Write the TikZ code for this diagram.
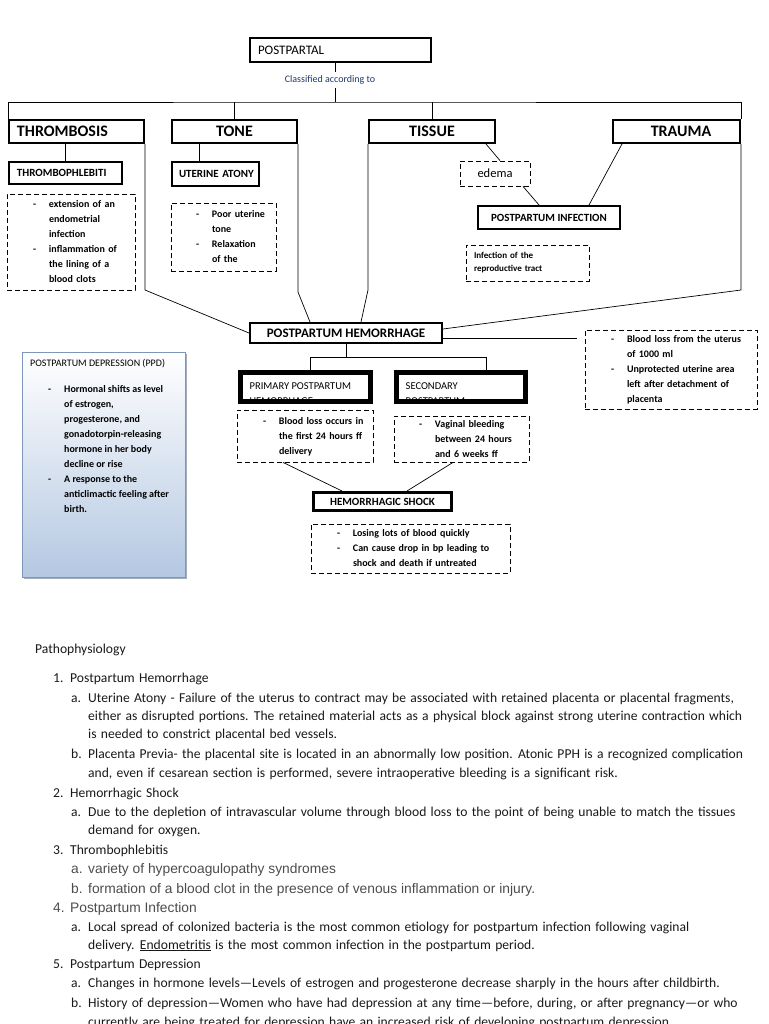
\documentclass[tikz,border=0pt]{standalone}
\usepackage{fontspec}
\setmainfont{Carlito}
\newfontfamily\bodyfont{Carlito}[WordSpace=1.4]
\newfontfamily\arialfont{Liberation Sans}
\usepackage{tikz}
\usetikzlibrary{shadows}
\setlength{\parindent}{0pt}
\definecolor{clsblue}{RGB}{31,56,100}
\definecolor{ppdblue}{RGB}{180,200,226}
\definecolor{ppdline}{RGB}{126,150,186}
\definecolor{bodygray}{RGB}{25,25,25}
\newcommand{\blist}[2]{\begin{tabular}{@{\hspace{#1}}p{16pt}@{}l@{}}#2\end{tabular}}
\newcommand{\enum}[1]{\makebox[17pt][l]{#1}}

\begin{document}
\begin{tikzpicture}[x=1pt,y=-1pt]
\tikzset{hbox/.style = {draw, line width=2pt, inner sep=0pt, font=\bfseries}}
\tikzset{bigbox/.style = {hbox, font=\fontsize{16}{18}\selectfont\bfseries, minimum height=23pt}}
\tikzset{subbox/.style = {hbox, font=\fontsize{11}{13}\selectfont\bfseries}}
\tikzset{lbox/.style = {inner xsep=0pt, text width=#1, align=left}}
\tikzset{dbox/.style = {draw, dash pattern=on 5pt off 3pt, line width=0.8pt, inner sep=0pt, align=left, font=\fontsize{10}{15}\selectfont\bfseries}}
\tikzset{cliptext/.style = {draw=none, line width=0.4pt, inner sep=0pt, minimum width=0pt, minimum height=0pt, anchor=north west, align=left, font=\fontsize{10.5}{15}\selectfont}}
\tikzset{conn/.style = {line width=0.7pt}}
\tikzset{body/.style = {anchor=base west, inner sep=0pt, text=bodygray, font=\bodyfont\fontsize{13.6}{16}\selectfont}}
\tikzset{arial/.style = {body, text=black!70, font=\arialfont\fontsize{13.8}{16}\selectfont}}
\useasboundingbox (0,0) rectangle (768,1024);

\node[hbox, lbox=181pt, font=\fontsize{13}{15}\selectfont, minimum height=24pt] (post) at (340.5,50) {\hspace*{8pt}POSTPARTAL};
\node[text=clsblue, font=\fontsize{10}{12}\selectfont, inner ysep=3pt] (cls) at (330,80) {Classified according to};
\coordinate (bar) at (335,102);

\node[bigbox, lbox=135pt] (thrombosis) at (76.5,131.5) {\hspace*{8pt}THROMBOSIS};
\node[bigbox, minimum width=125pt] (tone) at (234.5,131.5) {TONE};
\node[bigbox, minimum width=126pt] (tissue) at (432,131.5) {TISSUE};
\node[bigbox, minimum width=127pt] (trauma) at (676.5,131.5) {\hspace*{9pt}TRAUMA};
\draw[conn] (bar |- post.south) -- (bar |- cls.north);
\draw[conn] (bar |- cls.south) -- (bar);
\draw[conn] (thrombosis.north west) |- (bar) -| (trauma.north east);
\draw[conn] (tone.north) -- (tone.north |- bar);
\draw[conn] (tissue.north) -- (tissue.north |- bar);

\node[subbox, lbox=113pt, minimum height=22pt] (phlebiti) at (65.5,173) {\hspace*{8pt}THROMBOPHLEBITI};
\node[subbox, lbox=87pt, minimum height=24pt] (atony) at (215.5,174) {\hspace*{7pt}UTERINE ATONY};
\draw[conn] (phlebiti.north) -- (phlebiti.north |- thrombosis.south);
\draw[conn] ([xshift=-16pt]atony.north) -- ([xshift=-16pt]atony.north |- tone.south);
\node[dbox, text width=128pt, minimum height=96pt] (clotlist) at (71,242) {\blist{26pt}{-&extension of an\\&endometrial\\&infection\\-&inflammation of\\&the lining of a\\&blood clots}};
\node[dbox, text width=105pt, minimum height=68pt] (atonylist) at (223.5,237) {\blist{25pt}{-&Poor uterine\\&tone\\-&Relaxation\\&of the}};

\node[dbox, font=\fontsize{12.5}{14}\selectfont, minimum width=70pt, minimum height=25pt] (edema) at (495,173.5) {edema};
\node[subbox, minimum width=142pt, minimum height=23pt] (infection) at (549,217.5) {POSTPARTUM INFECTION};
\node[dbox, font=\fontsize{9}{13}\selectfont\bfseries, text width=123pt, minimum height=36pt] (infectlist) at (527.5,263) {\hspace*{8pt}Infection of the\\\hspace*{8pt}reproductive tract};
\draw[conn] ([xshift=54pt]tissue.south) -- ([xshift=5pt]edema.north);
\draw[conn] ([xshift=28pt]edema.south) -- ([xshift=-10pt]infection.north);
\draw[conn] ([xshift=-54.5pt]trauma.south) -- ([xshift=40pt]infection.north);

\node[hbox, font=\fontsize{13}{15}\selectfont\bfseries, minimum width=192pt, minimum height=20pt] (pph) at (346,333) {POSTPARTUM HEMORRHAGE};
\draw[conn] (thrombosis.south east) -- ++(0,146) -- (pph.west);
\draw[conn] (tone.south east) -- ++(0,148) -- ([xshift=-36pt]pph.north);
\draw[conn] (tissue.south west) -- ++(0,146) -- ([xshift=15pt]pph.north);
\draw[conn] (trauma.south east) -- ++(0,146) -- ([yshift=4pt]pph.east);

\node[dbox, text width=172pt, minimum height=79pt] (losslist) at (671,369.5) {\blist{26pt}{-&Blood loss from the uterus\\&of 1000 ml\\-&Unprotected uterine area\\&left after detachment of\\&placenta}};
\coordinate (pphr) at ([yshift=-5pt]pph.east);
\draw[conn] (pphr) -- ([xshift=-8pt]pphr -| losslist.west);

\node[hbox, line width=5pt, minimum width=130pt, minimum height=29.5pt, path picture={\node[cliptext] (primtext) at ([xshift=9pt,yshift=-10pt]path picture bounding box.north west) {PRIMARY POSTPARTUM\\HEMORRHAGE};}] (prim) at (305.5,387) {};
\node[hbox, line width=5pt, minimum width=129pt, minimum height=29.5pt, path picture={\node[cliptext] (sectext) at ([xshift=9pt,yshift=-10pt]path picture bounding box.north west) {SECONDARY\\POSTPARTUM};}] (sec) at (461,387) {};
\draw[conn] (pph.south) -- ++(0,13) -| ([xshift=4.5pt]prim.north);
\draw[conn] (pph.south) -- ++(0,13) -| ([xshift=25pt]sec.north);
\node[dbox, text width=136pt, minimum height=52pt] (primlist) at (305,436) {\blist{26pt}{-&Blood loss occurs in\\&the first 24 hours ff\\&delivery}};
\node[dbox, text width=135pt, minimum height=46pt] (seclist) at (461.5,439) {\blist{25pt}{-&Vaginal bleeding\\&between 24 hours\\&and 6 weeks ff}};

\node[hbox, line width=3pt, font=\fontsize{11}{13}\selectfont\bfseries, minimum width=138pt, minimum height=18pt] (shock) at (382.5,501.5) {HEMORRHAGIC SHOCK};
\draw[conn] ([xshift=-22pt]primlist.south) -- ([xshift=-40.5pt]shock.north);
\draw[conn] ([xshift=-8.5pt]seclist.south) -- ([xshift=24.5pt]shock.north);
\node[dbox, text width=199pt, minimum height=49pt] (shocklist) at (410.5,548.5) {\blist{26pt}{-&Losing lots of blood quickly\\-&Can cause drop in bp leading to\\&shock and death if untreated}};

\node[draw=ppdline, line width=0.8pt, top color=white, bottom color=ppdblue, drop shadow={shadow xshift=2pt, shadow yshift=-2pt, fill=ppdline!80!black, opacity=0.6}, minimum width=163pt, minimum height=225pt] (ppd) at (103.5,464.5) {};
\node[anchor=base west, inner sep=0pt, font=\fontsize{10}{12}\selectfont] (ppdhead) at (30,366) {POSTPARTUM DEPRESSION (PPD)};
\node[anchor=north west, inner sep=0pt, font=\fontsize{10}{15}\selectfont\bfseries] (ppdlist) at (48,381.5) {\blist{0pt}{-&Hormonal shifts as level\\&of estrogen,\\&progesterone, and\\&gonadotorpin-releasing\\&hormone in her body\\&decline or rise\\-&A response to the\\&anticlimactic feeling after\\&birth.}};

\node[body] (patho) at (35,653) {Pathophysiology};
\node[body] (i1) at (53,682) {\enum{1.}Postpartum Hemorrhage};
\node[body] (i1a) at (71,702) {\enum{a.}Uterine Atony - Failure of the uterus to contract may be associated with retained placenta or placental fragments,};
\node[body] (i1a2) at (88,720) {either as disrupted portions. The retained material acts as a physical block against strong uterine contraction which};
\node[body] (i1a3) at (88,738) {is needed to constrict placental bed vessels.};
\node[body] (i1b) at (71,758) {\enum{b.}Placenta Previa- the placental site is located in an abnormally low position. Atonic PPH is a recognized complication};
\node[body] (i1b2) at (88,777) {and, even if cesarean section is performed, severe intraoperative bleeding is a significant risk.};
\node[body] (i2) at (53,797) {\enum{2.}Hemorrhagic Shock};
\node[body] (i2a) at (71,816) {\enum{a.}Due to the depletion of intravascular volume through blood loss to the point of being unable to match the tissues};
\node[body] (i2a2) at (88,834) {demand for oxygen.};
\node[body] (i3) at (53,854) {\enum{3.}Thrombophlebitis};
\node[arial] (i3a) at (71,873) {\enum{a.}variety of hypercoagulopathy syndromes};
\node[arial] (i3b) at (71,893) {\enum{b.}formation of a blood clot in the presence of venous inflammation or injury.};
\node[arial] (i4) at (53,912) {\enum{4.}Postpartum Infection};
\node[body] (i4a) at (71,931) {\enum{a.}Local spread of colonized bacteria is the most common etiology for postpartum infection following vaginal};
\node[body] (i4a2) at (88,949) {delivery. \underline{Endometritis} is the most common infection in the postpartum period.};
\node[body] (i5) at (53,968) {\enum{5.}Postpartum Depression};
\node[body] (i5a) at (71,987) {\enum{a.}Changes in hormone levels—Levels of estrogen and progesterone decrease sharply in the hours after childbirth.};
\node[body] (i5b) at (71,1007) {\enum{b.}History of depression—Women who have had depression at any time—before, during, or after pregnancy—or who};
\node[body] (i5b2) at (88,1026) {currently are being treated for depression have an increased risk of developing postpartum depression.};
\end{tikzpicture}
\end{document}
